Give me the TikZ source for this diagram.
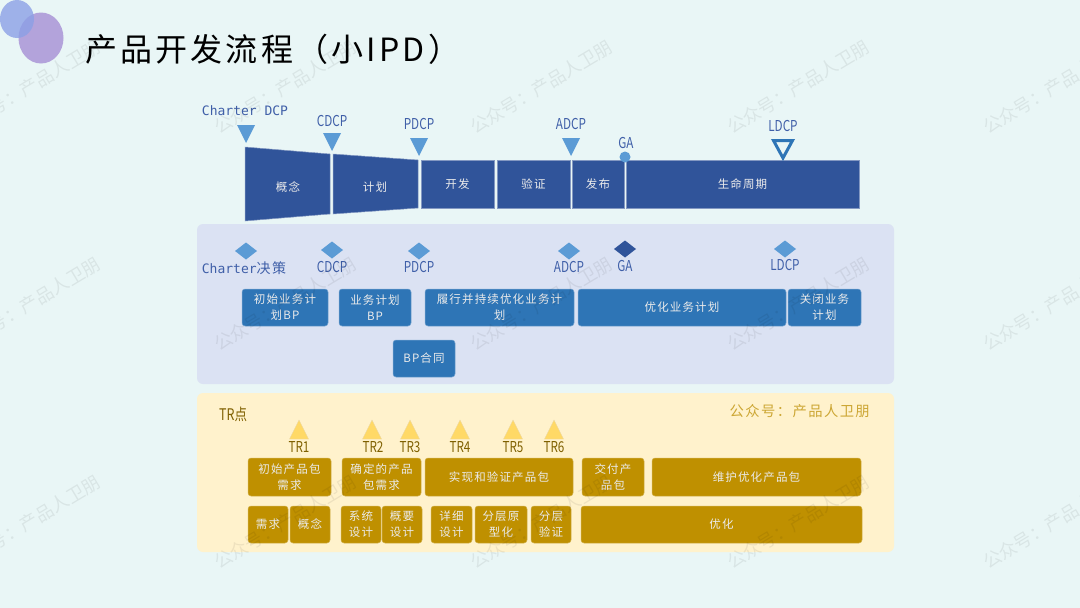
\documentclass[tikz,border=0pt]{standalone}
\usepackage{fontspec}
\setmainfont{Noto Sans CJK SC}
\newfontfamily\cjk[LetterSpace=10]{Noto Sans CJK SC}
\newfontfamily\cjktight{Noto Sans CJK SC}
\newfontfamily\monolat{DejaVu Sans Mono}
\newfontfamily\narrow[FakeStretch=0.78]{Noto Sans CJK SC}
\usetikzlibrary{calc}
\definecolor{bgc}{HTML}{E9F6F6}
\definecolor{barc}{HTML}{30549A}
\definecolor{trianc}{HTML}{5B9BD5}
\definecolor{labelc}{HTML}{3F5FA8}
\definecolor{bluebox}{HTML}{2E75B6}
\definecolor{goldbox}{HTML}{BF9000}
\definecolor{bluepanel}{HTML}{DBE2F3}
\definecolor{yellowpanel}{HTML}{FFF2CC}
\definecolor{trtext}{HTML}{7F6000}
\definecolor{trtri}{HTML}{FFD966}
\tikzset{
  x=1pt,y=-1pt,
  boxtext/.style={text=white!92!black,font=\fontsize{11.5}{16}\cjk,align=center,inner sep=0pt},
  barbox/.style={rectangle,fill=barc,draw=barc!60!white,line width=.5pt,boxtext},
  bluenode/.style={rectangle,rounded corners=3pt,fill=bluebox,draw=bluebox!65!white,line width=.5pt,boxtext},
  goldnode/.style={rectangle,rounded corners=3pt,fill=goldbox,draw=goldbox!70!white,line width=.5pt,boxtext},
  cplabel/.style={text=labelc,font=\fontsize{15}{16}\narrow,inner sep=0pt},
  trlabel/.style={text=trtext,font=\fontsize{15}{16}\narrow,inner sep=0pt},
  marktri/.style={fill=trianc},
  markdia/.style={fill=trianc},
  trtriangle/.style={fill=trtri,draw=goldbox!35!white,line width=.4pt},
  mark text/.style={text=black,opacity=.065,font=\fontsize{18}{20}\cjktight,rotate=31,inner sep=0pt},
}
\newcommand{\bx}[7]{\node[#6,minimum width={(#4-#2)*1pt},minimum height={(#5-#3)*1pt}] (#1) at ({(#2+#4)/2},{(#3+#5)/2}) {#7};}
\newcommand{\dnt}[2]{\fill[marktri] (#1-9,#2) -- (#1+9,#2) -- (#1,#2+18) -- cycle;}
\newcommand{\dia}[3][markdia]{\fill[#1] (#2-11,#3) -- (#2,#3-8.5) -- (#2+11,#3) -- (#2,#3+8.5) -- cycle;}
\newcommand{\upt}[1]{\filldraw[trtriangle] (#1-9.5,439) -- (#1,420) -- (#1+9.5,439) -- cycle;}
\begin{document}
\begin{tikzpicture}
\useasboundingbox (0,0) rectangle (1080,608);
\fill[bgc] (0,0) rectangle (1080,608);
% decorative circles
\fill[color={rgb,255:red,179;green,163;blue,219}] (41,38) ellipse [x radius=22.5,y radius=25.5];
\fill[color={rgb,255:red,140;green,160;blue,230},opacity=.8] (17,19) ellipse [x radius=17,y radius=19];
% title
\node[anchor=west,inner sep=0pt,font=\fontsize{32}{36}\cjk] (title) at (85,49) {产品开发流程（小IPD）};

% top bar
\filldraw[fill=barc,draw=barc!60!white,line width=.5pt] (245,147) -- (330,154) -- (330,214) -- (245,221) -- cycle;
\filldraw[fill=barc,draw=barc!60!white,line width=.5pt] (333,154) -- (418,160) -- (418,208) -- (333,214) -- cycle;
\node[boxtext] (concept) at (288,187) {概念};
\node[boxtext] (plan) at (375,187) {计划};
\bx{dev}{421}{160}{494}{208}{barbox}{开发}
\bx{verify}{497}{160}{570}{208}{barbox}{验证}
\bx{release}{572}{160}{624}{208}{barbox}{发布}
\bx{life}{626}{160}{859}{208}{barbox}{生命周期}
% top markers
\dnt{246}{125}
\dnt{332}{133}
\dnt{419}{138}
\dnt{571}{138}
\fill[trianc] (625,157) circle (5.5);
\draw[bluebox,line width=3pt,line join=miter] (773.5,140.5) -- (792.5,140.5) -- (783,158) -- cycle;
\node[text=labelc,font=\fontsize{13}{16}\monolat,inner sep=0pt] (lcharter) at (245,111) {Charter DCP};
\node[cplabel] (lcdcp) at (332,121) {CDCP};
\node[cplabel] (lpdcp) at (419,124) {PDCP};
\node[cplabel] (ladcp) at (571,124) {ADCP};
\node[cplabel] (lga) at (626,143) {GA};
\node[cplabel] (lldcp) at (783,126) {LDCP};

% blue panel
\fill[bluepanel,rounded corners=6pt] (197,224) rectangle (894,384);
\dia{246}{251}
\dia{332}{250}
\dia{419}{251}
\dia{569}{251}
\dia[fill=barc]{625}{249}
\dia{785}{249}
\node[text=labelc,font=\fontsize{13}{16}\monolat,inner sep=0pt] (lchartera) at (244,268) {Charter{\fontsize{14}{16}\cjk 决策}};
\node[cplabel] (lcdcpb) at (332,267) {CDCP};
\node[cplabel] (lpdcpb) at (419,267) {PDCP};
\node[cplabel] (ladcpb) at (569,267) {ADCP};
\node[cplabel] (lgab) at (625,266) {GA};
\node[cplabel] (lldcpb) at (785,265) {LDCP};
\bx{bp1}{242}{289}{328}{326}{bluenode}{初始业务计\\划BP}
\bx{bp2}{339}{289}{411}{326}{bluenode}{业务计划\\BP}
\bx{bp3}{425}{289}{574}{326}{bluenode}{履行并持续优化业务计\\划}
\bx{bp4}{578}{289}{786}{326}{bluenode}{优化业务计划}
\bx{bp5}{788}{289}{861}{326}{bluenode}{关闭业务\\计划}
\bx{bp6}{393}{340}{455}{377}{bluenode}{BP合同}

% yellow panel
\fill[yellowpanel,rounded corners=6pt] (197,393) rectangle (894,552);
\node[trlabel,font=\fontsize{16}{16}\narrow,anchor=west] (trpt) at (219,414) {TR点};
\node[text=goldbox!80!white,font=\fontsize{14.3}{16}\cjk,inner sep=0pt,anchor=east] (acct) at (870,411) {公众号：产品人卫朋};
\upt{299}\upt{372}\upt{410}\upt{460}\upt{513}\upt{554}
\node[trlabel] (tr1) at (299,447) {TR1};
\node[trlabel] (tr2) at (373,447) {TR2};
\node[trlabel] (tr3) at (410,447) {TR3};
\node[trlabel] (tr4) at (460,447) {TR4};
\node[trlabel] (tr5) at (513,447) {TR5};
\node[trlabel] (tr6) at (554,447) {TR6};
\bx{g1}{248}{458}{331}{496}{goldnode}{初始产品包\\需求}
\bx{g2}{342}{458}{421}{496}{goldnode}{确定的产品\\包需求}
\bx{g3}{425}{458}{573}{496}{goldnode}{实现和验证产品包}
\bx{g4}{582}{458}{644}{496}{goldnode}{交付产\\品包}
\bx{g5}{652}{458}{861}{496}{goldnode}{维护优化产品包}
\bx{h1}{248}{506}{288}{543}{goldnode}{需求}
\bx{h2}{290}{506}{330}{543}{goldnode}{概念}
\bx{h3}{341}{506}{381}{543}{goldnode}{系统\\设计}
\bx{h4}{382}{506}{422}{543}{goldnode}{概要\\设计}
\bx{h5}{431}{506}{472}{543}{goldnode}{详细\\设计}
\bx{h6}{475}{506}{527}{543}{goldnode}{分层原\\型化}
\bx{h7}{531}{506}{571}{543}{goldnode}{分层\\验证}
\bx{h8}{581}{506}{862}{543}{goldnode}{优化}

% watermarks
\foreach \yy/\r in {87/a,304/b,522/c}{
  \foreach \xx/\c in {29/a,285/b,541/c,798/d,1054/e}{
    \node[mark text] (wm\r\c) at (\xx,\yy) {公众号：产品人卫朋};
  }
}
\end{tikzpicture}
\end{document}
